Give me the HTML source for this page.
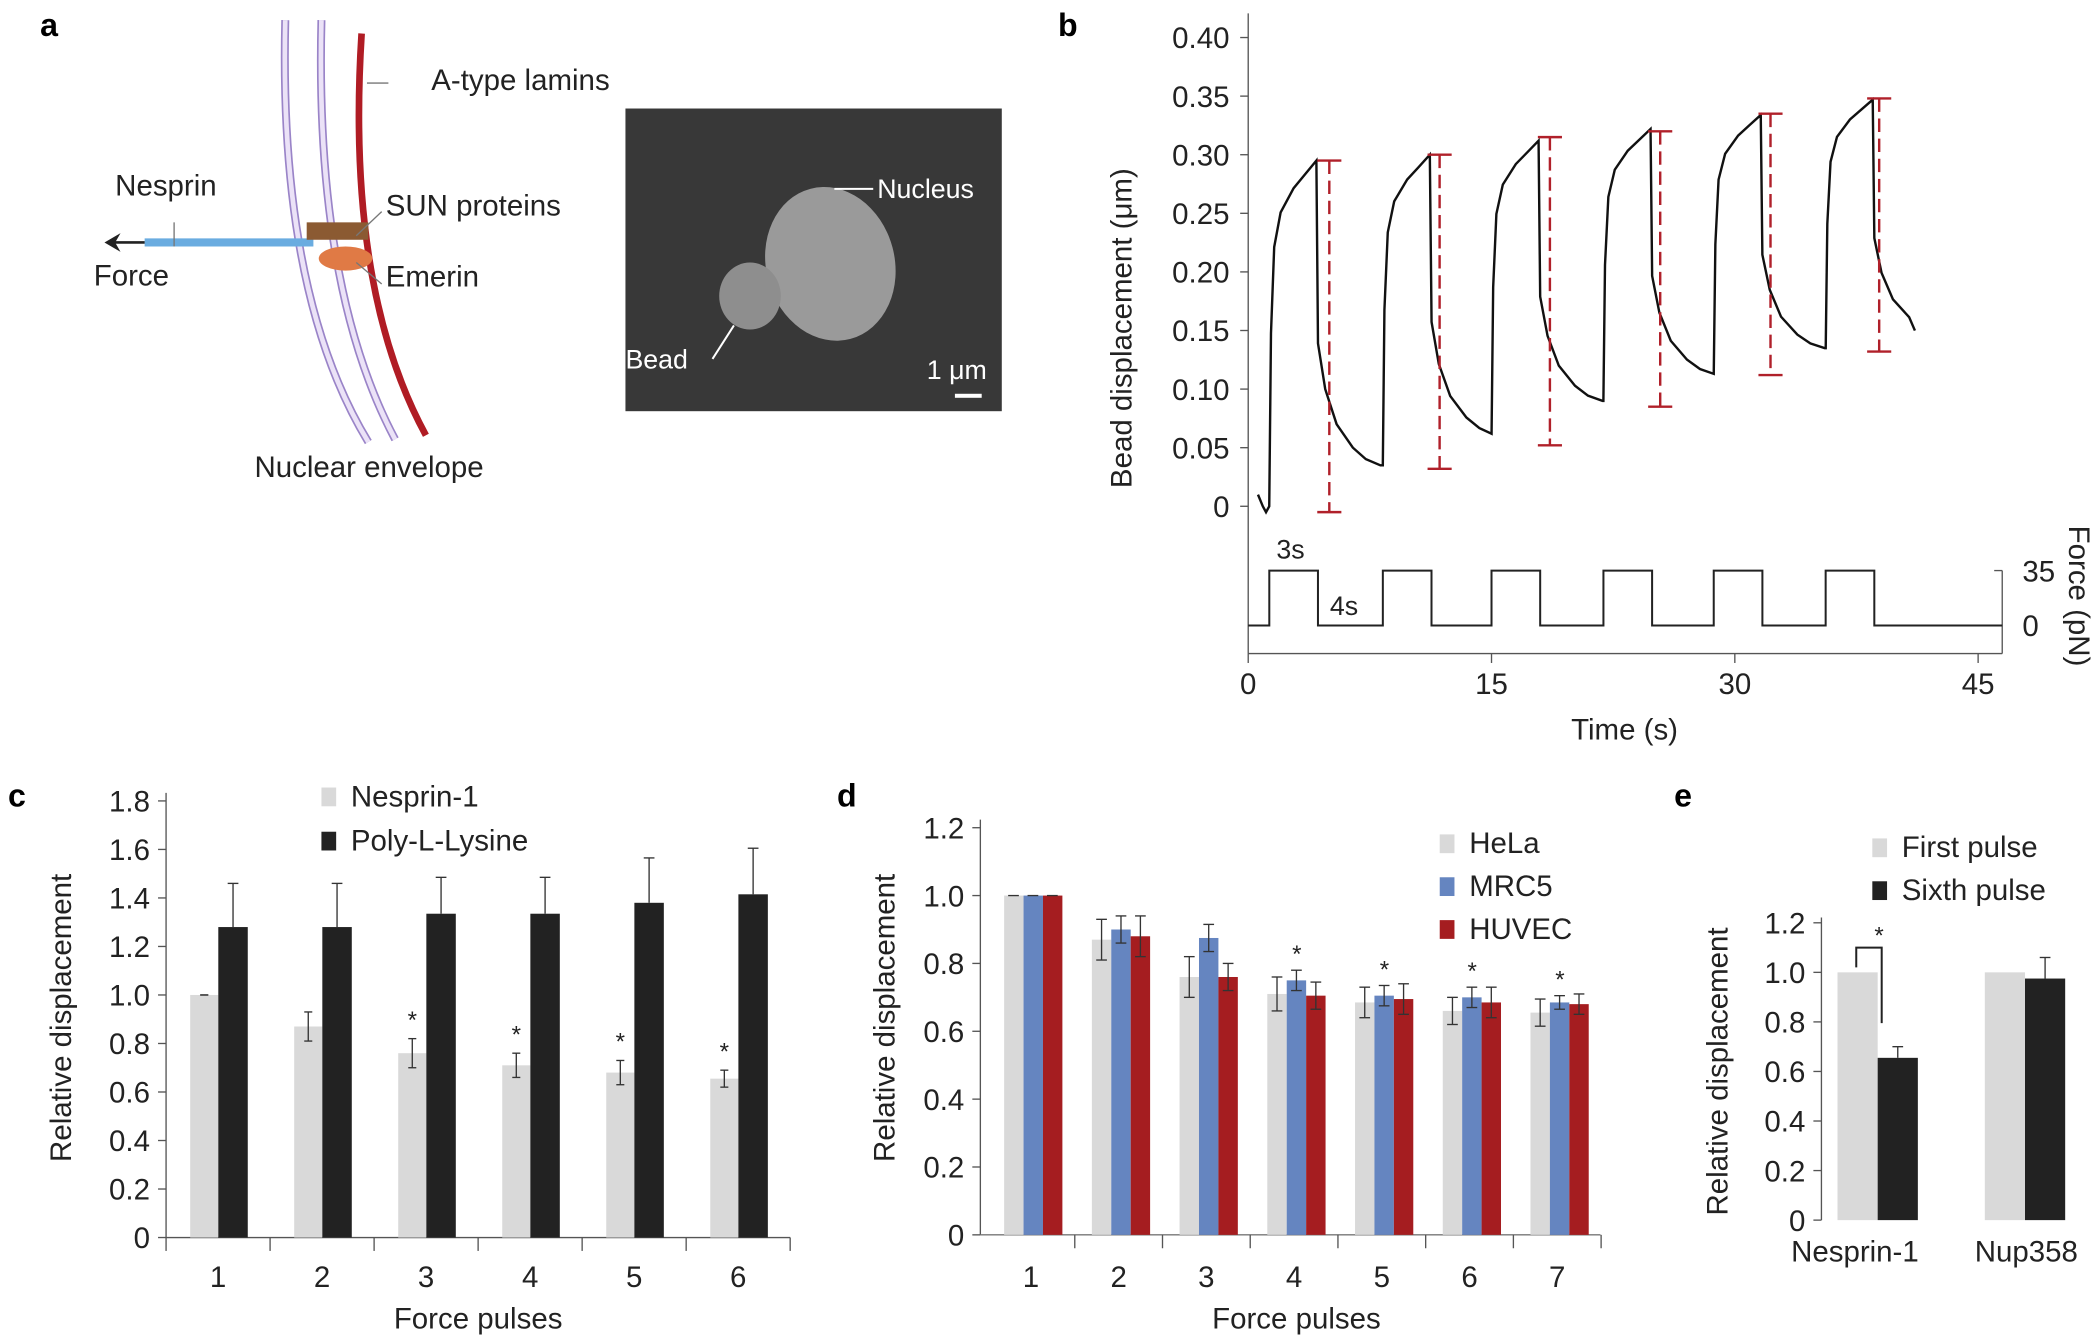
<!DOCTYPE html>
<html><head><meta charset="utf-8"><style>
html,body{margin:0;padding:0;background:#fff;}
svg{display:block;font-family:"Liberation Sans",sans-serif;}
</style></head><body>
<svg id="fig" width="2100" height="1336" viewBox="0 0 1568 997.5" xmlns="http://www.w3.org/2000/svg">
<g id="panelA">
<text x="30" y="27" font-size="24" font-weight="bold">a</text>
<path d="M213,15 Q208,220 275,330" fill="none" stroke="#9a84c8" stroke-width="6"/>
<path d="M213,15 Q208,220 275,330" fill="none" stroke="#ebe2f7" stroke-width="3.5"/>
<path d="M240,15 Q235,215 295,328" fill="none" stroke="#9a84c8" stroke-width="6"/>
<path d="M240,15 Q235,215 295,328" fill="none" stroke="#ebe2f7" stroke-width="3.5"/>
<path d="M270,25 Q258,215 318,325" fill="none" stroke="#b01c24" stroke-width="5"/>
<line x1="108" y1="181" x2="234" y2="181" stroke="#6aace0" stroke-width="6"/>
<line x1="82" y1="181" x2="108" y2="181" stroke="#222" stroke-width="2"/>
<path d="M78,181 L90,174 L86,181 L90,188 Z" fill="#222"/>
<rect x="229" y="166" width="46" height="13" fill="#8b5a32"/>
<ellipse cx="258" cy="193" rx="20" ry="9" fill="#e07a45"/>
<line x1="130" y1="166" x2="130" y2="184" stroke="#777" stroke-width="1"/>
<line x1="266" y1="176" x2="285" y2="158" stroke="#777" stroke-width="1"/>
<line x1="266" y1="196" x2="285" y2="212" stroke="#777" stroke-width="1"/>
<line x1="274" y1="62" x2="290" y2="62" stroke="#777" stroke-width="1"/>
<g font-size="22" fill="#222">
<text x="322" y="67">A-type lamins</text>
<text x="86" y="146">Nesprin</text>
<text x="288" y="161">SUN proteins</text>
<text x="70" y="213">Force</text>
<text x="288" y="214">Emerin</text>
<text x="190" y="356">Nuclear envelope</text>
</g>
<g>
<rect x="467" y="81" width="281" height="226" fill="#383838"/>
<ellipse cx="620" cy="197" rx="48" ry="58" fill="#9a9a9a" transform="rotate(-15 620 197)"/>
<ellipse cx="560" cy="221" rx="23" ry="25" fill="#8e8e8e"/>
<line x1="623" y1="141" x2="652" y2="141" stroke="#fff" stroke-width="1.5"/>
<line x1="548" y1="243" x2="532" y2="268" stroke="#fff" stroke-width="1.5"/>
<rect x="713" y="294" width="20" height="3" fill="#fff"/>
<g font-size="20" fill="#fff">
<text x="655" y="148">Nucleus</text>
<text x="467" y="275">Bead</text>
<text x="692" y="283">1 μm</text>
</g>
</g>
</g>
<g id="panelB"></g>
<g id="panelC"></g>
<g id="panelD"></g>
<g id="panelE"></g>
</svg>
<script>
// ---- Panel B data ----
const pulseOnsets = [1.3, 8.3, 15.0, 21.9, 28.7, 35.6];
const pulseDuration = 3;
const peakValues = [0.295, 0.300, 0.312, 0.322, 0.334, 0.347];
const troughValues = [0.035, 0.062, 0.090, 0.113, 0.135, 0.150];
const initialBaseline = 0.0;
const barTimes = [5.0, 11.8, 18.6, 25.4, 32.2, 38.9];
const barTops = [0.295, 0.300, 0.315, 0.320, 0.335, 0.348];
const barBottoms = [-0.005, 0.032, 0.052, 0.085, 0.112, 0.132];
const bYTicks = [0, 0.05, 0.10, 0.15, 0.20, 0.25, 0.30, 0.35, 0.40];
const bYTickLabels = ["0","0.05","0.10","0.15","0.20","0.25","0.30","0.35","0.40"];
const bXTicks = [0, 15, 30, 45];
const forceLevels = [0, 35];
const traceEnd = 41.1;

// ---- Panel C data ----
const cCategories = ["1","2","3","4","5","6"];
const cNesprin = [1.0, 0.87, 0.76, 0.71, 0.68, 0.655];
const cNesprinErr = [0, 0.06, 0.06, 0.05, 0.05, 0.035];
const cPoly = [1.28, 1.28, 1.335, 1.335, 1.38, 1.415];
const cPolyErr = [0.18, 0.18, 0.15, 0.15, 0.185, 0.19];
const cStars = [false, false, true, true, true, true];
const cYTicks = [0, 0.2, 0.4, 0.6, 0.8, 1.0, 1.2, 1.4, 1.6, 1.8];
const cYTickLabels = ["0","0.2","0.4","0.6","0.8","1.0","1.2","1.4","1.6","1.8"];

// ---- Panel D data ----
const dCategories = ["1","2","3","4","5","6","7"];
const dHela = [1.0, 0.87, 0.76, 0.71, 0.685, 0.66, 0.655];
const dHelaErr = [0, 0.06, 0.06, 0.05, 0.045, 0.04, 0.04];
const dMrc5 = [1.0, 0.90, 0.875, 0.75, 0.705, 0.70, 0.685];
const dMrc5Err = [0, 0.04, 0.04, 0.03, 0.03, 0.03, 0.02];
const dHuvec = [1.0, 0.88, 0.76, 0.705, 0.695, 0.685, 0.68];
const dHuvecErr = [0, 0.06, 0.04, 0.04, 0.045, 0.045, 0.03];
const dStars = [false, false, false, true, true, true, true];
const dYTicks = [0, 0.2, 0.4, 0.6, 0.8, 1.0, 1.2];
const dYTickLabels = ["0","0.2","0.4","0.6","0.8","1.0","1.2"];

// ---- Panel E data ----
const eCategories = ["Nesprin-1", "Nup358"];
const eFirst = [1.0, 1.0];
const eSixth = [0.655, 0.975];
const eSixthErr = [0.045, 0.085];
const eYTicks = [0, 0.2, 0.4, 0.6, 0.8, 1.0, 1.2];
const eYTickLabels = ["0","0.2","0.4","0.6","0.8","1.0","1.2"];

const NS = "http://www.w3.org/2000/svg";
function mk(parent, tag, attrs, text) {
  const el = document.createElementNS(NS, tag);
  for (const k in attrs) el.setAttribute(k, attrs[k]);
  if (text !== undefined) el.textContent = text;
  parent.appendChild(el);
  return el;
}

// ===== Panel B =====
(function(){
  const g = document.getElementById("panelB");
  const x = t => 932 + t * (1477 - 932) / 45;
  const y = v => 378 - v * (378 - 28) / 0.40;
  const fy = f => 467 - f * (467 - 426) / 35;
  let t = mk(g, "text", {x: 790, y: 27, "font-size": 24, "font-weight": "bold"}, "b");
  
  
  let ax = mk(g, "line", {x1: 932, y1: 10, x2: 932, y2: 488, stroke: "#555", "stroke-width": 1});
  
  
  bYTicks.forEach((v, i) => {
    mk(g, "line", {x1: 926, y1: y(v), x2: 932, y2: y(v), stroke: "#555"});
    const l = mk(g, "text", {x: 918, y: y(v) + 8, "font-size": 22, "text-anchor": "end", fill: "#222"}, bYTickLabels[i]);
    
    
  });
  let xa = mk(g, "line", {x1: 932, y1: 488, x2: 1495, y2: 488, stroke: "#555"});
  
  
  bXTicks.forEach(v => {
    mk(g, "line", {x1: x(v), y1: 488, x2: x(v), y2: 495, stroke: "#555"});
    const l = mk(g, "text", {x: x(v), y: 518, "font-size": 22, "text-anchor": "middle", fill: "#222"}, String(v));
    
    
  });
  let xt = mk(g, "text", {x: 1213, y: 552, "font-size": 22, "text-anchor": "middle", fill: "#222"}, "Time (s)");
  
  
  let yt = mk(g, "text", {x: 0, y: 0, "font-size": 22, "text-anchor": "middle", fill: "#222", transform: "translate(845,245) rotate(-90)"}, "Bead displacement (μm)");
  
  
  let ra = mk(g, "line", {x1: 1495, y1: 426, x2: 1495, y2: 488, stroke: "#555"});
  
  
  forceLevels.forEach(f => {
    mk(g, "line", {x1: 1489, y1: fy(f), x2: 1495, y2: fy(f), stroke: "#555"});
    const l = mk(g, "text", {x: 1510, y: fy(f) + 8, "font-size": 22, fill: "#222"}, String(f));
    
    
  });
  let ft = mk(g, "text", {x: 0, y: 0, "font-size": 22, "text-anchor": "middle", fill: "#222", transform: "translate(1545,445) rotate(90)"}, "Force (pN)");
  
  
  let fp = "M" + x(0) + "," + fy(0);
  pulseOnsets.forEach(t0 => {
    fp += " L" + x(t0) + "," + fy(0) + " L" + x(t0) + "," + fy(35) + " L" + x(t0 + pulseDuration) + "," + fy(35) + " L" + x(t0 + pulseDuration) + "," + fy(0);
  });
  fp += " L1495," + fy(0);
  let fpath = mk(g, "path", {d: fp, fill: "none", stroke: "#222", "stroke-width": 1.5});
  
  
  let l3 = mk(g, "text", {x: 953, y: 417, "font-size": 20, fill: "#222"}, "3s");
  
  
  let l4 = mk(g, "text", {x: 993, y: 459, "font-size": 20, fill: "#222"}, "4s");
  
  
  const riseT = [0, 0.1, 0.3, 0.7, 1.5, 2.2, 2.9];
  const riseF = [0, 0.5, 0.75, 0.85, 0.92, 0.96, 1.0];
  const decT = [0.05, 0.5, 1.2, 2.2, 3.0, 3.9];
  const decF = [0.40, 0.25, 0.135, 0.058, 0.02, 0];
  let pts = [[0.6, 0.01], [0.9, 0.0], [1.1, -0.005]];
  let base = initialBaseline;
  pulseOnsets.forEach((t0, i) => {
    const p = peakValues[i], q = troughValues[i];
    riseT.forEach((dt, j) => pts.push([t0 + dt, base + riseF[j] * (p - base)]));
    const tf = t0 + pulseDuration - 0.05;
    const lim = i < pulseOnsets.length - 1 ? pulseOnsets[i + 1] : traceEnd;
    decT.forEach((dt, j) => { if (tf + dt <= lim) pts.push([tf + dt, q + decF[j] * (p - q)]); });
    base = q;
  });
  pts.push([traceEnd, troughValues[troughValues.length - 1]]);
  let d = pts.map((pt, i) => (i ? "L" : "M") + x(pt[0]).toFixed(1) + "," + y(pt[1]).toFixed(1)).join(" ");
  let tr = mk(g, "path", {d: d, fill: "none", stroke: "#111", "stroke-width": 1.8});
  
  
  barTimes.forEach((bt, i) => {
    const gg = mk(g, "g", {stroke: "#b0202a", "stroke-width": 1.8});
    
    
    mk(gg, "line", {x1: x(bt), y1: y(barTops[i]), x2: x(bt), y2: y(barBottoms[i]), "stroke-dasharray": "10,5"});
    mk(gg, "line", {x1: x(bt) - 9, y1: y(barTops[i]), x2: x(bt) + 9, y2: y(barTops[i])});
    mk(gg, "line", {x1: x(bt) - 9, y1: y(barBottoms[i]), x2: x(bt) + 9, y2: y(barBottoms[i])});
  });
})();

// yBot: lower end of vertical; capBot: whether to draw a lower cap
function errBar(g, cx, yTop, yBot, w, capBot) {
  const e = mk(g, "g", {stroke: "#333", "stroke-width": 1});
  
  
  mk(e, "line", {x1: cx, y1: yTop, x2: cx, y2: yBot});
  mk(e, "line", {x1: cx - w, y1: yTop, x2: cx + w, y2: yTop});
  if (capBot) mk(e, "line", {x1: cx - w, y1: yBot, x2: cx + w, y2: yBot});
}
function star(g, cx, cy) {
  const s = mk(g, "text", {x: cx, y: cy, "font-size": 18, "text-anchor": "middle", fill: "#222"}, "*");
  
  
}
function legend(g, lx, ly, color, label) {
  const r = mk(g, "rect", {x: lx, y: ly - 14, width: 11, height: 14, fill: color});
  
  
  const t = mk(g, "text", {x: lx + 22, y: ly, "font-size": 22, fill: "#222"}, label);
  
  
}
function yAxis(g, x0, y, ticks, labels, top, bottom, titleX, titleY) {
  const a = mk(g, "line", {x1: x0, y1: top, x2: x0, y2: bottom, stroke: "#555"});
  
  
  ticks.forEach((v, i) => {
    mk(g, "line", {x1: x0 - 6, y1: y(v), x2: x0, y2: y(v), stroke: "#555"});
    const l = mk(g, "text", {x: x0 - 12, y: y(v) + 8, "font-size": 22, "text-anchor": "end", fill: "#222"}, labels[i]);
    
    
  });
  const t = mk(g, "text", {x: 0, y: 0, "font-size": 22, "text-anchor": "middle", fill: "#222", transform: "translate(" + titleX + "," + titleY + ") rotate(-90)"}, "Relative displacement");
  
  
}

// ===== Panel C =====
(function(){
  const g = document.getElementById("panelC");
  const x0 = 124, gw = (590 - 124) / cCategories.length;
  const y = v => 924 - v * (924 - 598) / 1.8;
  let p = mk(g, "text", {x: 6, y: 602, "font-size": 24, "font-weight": "bold"}, "c");
  
  
  yAxis(g, x0, y, cYTicks, cYTickLabels, 592, 924, 53, 760);
  const xa = mk(g, "line", {x1: x0, y1: 924, x2: 590, y2: 924, stroke: "#555"});
  
  
  for (let i = 0; i <= cCategories.length; i++) mk(g, "line", {x1: x0 + i * gw, y1: 924, x2: x0 + i * gw, y2: 934, stroke: "#555"});
  cCategories.forEach((c, i) => {
    const gx = x0 + i * gw;
    const b1 = mk(g, "rect", {x: gx + 18, y: y(cNesprin[i]), width: 21, height: 924 - y(cNesprin[i]), fill: "#d9d9d9"});
    
    
    const b2 = mk(g, "rect", {x: gx + 39, y: y(cPoly[i]), width: 22, height: 924 - y(cPoly[i]), fill: "#222"});
    
    
    errBar(g, gx + 28.5, y(cNesprin[i] + cNesprinErr[i]), y(cNesprin[i] - cNesprinErr[i]), 3, true);
    errBar(g, gx + 50, y(cPoly[i] + cPolyErr[i]), y(cPoly[i]), 4, false);
    if (cStars[i]) star(g, gx + 28.5, y(cNesprin[i] + cNesprinErr[i]) - 8);
    const l = mk(g, "text", {x: gx + gw / 2, y: 961, "font-size": 22, "text-anchor": "middle", fill: "#222"}, c);
    
    
  });
  const t = mk(g, "text", {x: 357, y: 992, "font-size": 22, "text-anchor": "middle", fill: "#222"}, "Force pulses");
  
  
  legend(g, 240, 602, "#d9d9d9", "Nesprin-1");
  legend(g, 240, 635, "#222", "Poly-L-Lysine");
})();

// ===== Panel D =====
(function(){
  const g = document.getElementById("panelD");
  const x0 = 737, gw = 65.5;
  const y = v => 922 - v * (922 - 618) / 1.2;
  let p = mk(g, "text", {x: 625, y: 602, "font-size": 24, "font-weight": "bold"}, "d");
  
  
  yAxis(g, 732, y, dYTicks, dYTickLabels, 612, 922, 668, 760);
  const xa = mk(g, "line", {x1: 732, y1: 922, x2: 1195, y2: 922, stroke: "#777"});
  
  
  for (let i = 1; i <= dCategories.length; i++) mk(g, "line", {x1: x0 + i * gw, y1: 922, x2: x0 + i * gw, y2: 932, stroke: "#555"});
  const series = [[dHela, dHelaErr, "#d9d9d9", "bar-hela"], [dMrc5, dMrc5Err, "#6585c0", "bar-mrc5"], [dHuvec, dHuvecErr, "#a51d20", "bar-huvec"]];
  dCategories.forEach((c, i) => {
    const cx = x0 + i * gw + gw / 2;
    series.forEach((s, k) => {
      const bx = cx - 20 + k * 14.5;
      const r = mk(g, "rect", {x: bx, y: y(s[0][i]), width: 14.5, height: 922 - y(s[0][i]), fill: s[2]});
      
      
      if (s[1][i] > 0) errBar(g, bx + 7.25, y(s[0][i] + s[1][i]), y(s[0][i] - s[1][i]), 4, true);
      else mk(g, "line", {x1: bx + 3, y1: y(s[0][i]), x2: bx + 11, y2: y(s[0][i]), stroke: "#333"});
    });
    if (dStars[i]) star(g, cx + 2, y(dMrc5[i] + dMrc5Err[i]) - 6);
    const l = mk(g, "text", {x: cx, y: 961, "font-size": 22, "text-anchor": "middle", fill: "#222"}, c);
    
    
  });
  const t = mk(g, "text", {x: 968, y: 992, "font-size": 22, "text-anchor": "middle", fill: "#222"}, "Force pulses");
  
  
  legend(g, 1075, 637, "#d9d9d9", "HeLa");
  legend(g, 1075, 669, "#6585c0", "MRC5");
  legend(g, 1075, 701, "#a51d20", "HUVEC");
})();

// ===== Panel E =====
(function(){
  const g = document.getElementById("panelE");
  const y = v => 911 - v * (911 - 689) / 1.2;
  const gx = [1372, 1482];
  let p = mk(g, "text", {x: 1250, y: 602, "font-size": 24, "font-weight": "bold"}, "e");
  
  
  yAxis(g, 1360, y, eYTicks, eYTickLabels, 685, 911, 1290, 800);
  eCategories.forEach((c, i) => {
    const r1 = mk(g, "rect", {x: gx[i], y: y(eFirst[i]), width: 30, height: 911 - y(eFirst[i]), fill: "#d9d9d9"});
    
    
    const r2 = mk(g, "rect", {x: gx[i] + 30, y: y(eSixth[i]), width: 30, height: 911 - y(eSixth[i]), fill: "#222"});
    
    
    errBar(g, gx[i] + 45, y(eSixth[i] + eSixthErr[i]), y(eSixth[i]), 4, false);
    const l = mk(g, "text", {x: gx[i] + 13 + i * 18, y: 942, "font-size": 22, "text-anchor": "middle", fill: "#222"}, c);
    
    
  });
  const br = mk(g, "path", {d: "M1386," + y(1.02) + " L1386," + y(1.1) + " L1405," + y(1.1) + " L1405," + y(eSixth[0] + 0.14), fill: "none", stroke: "#222", "stroke-width": 1.5});
  
  
  star(g, 1403, y(1.1) - 3);
  legend(g, 1398, 640, "#d9d9d9", "First pulse");
  legend(g, 1398, 672, "#222", "Sixth pulse");
})();
</script>
</body></html>
